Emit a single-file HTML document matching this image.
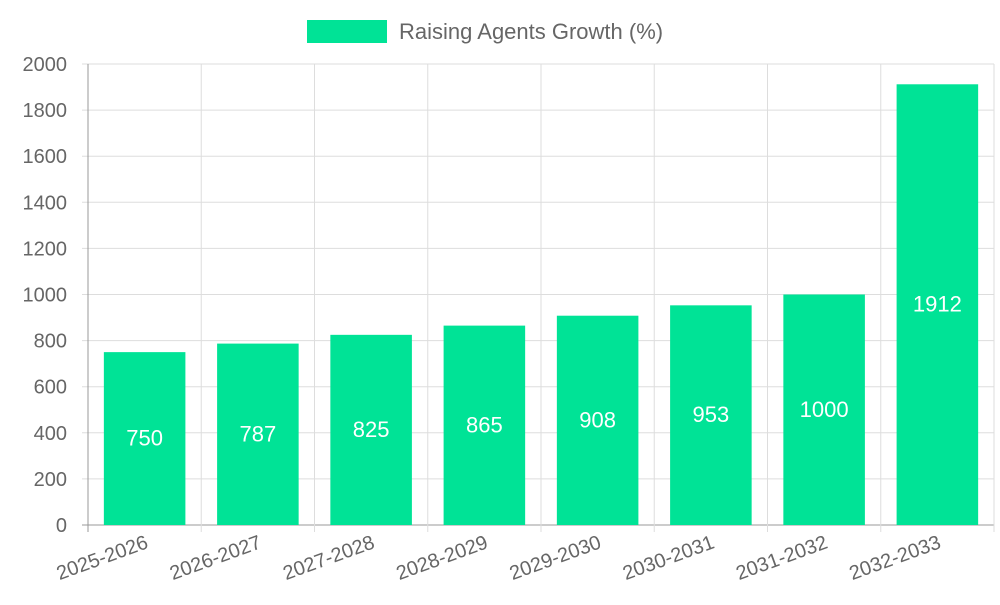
<!DOCTYPE html>
<html><head><meta charset="utf-8"><style>
body{margin:0;background:#fff;font-family:"Liberation Sans",sans-serif}
</style></head><body>
<svg id="chart" width="1000" height="600" xmlns="http://www.w3.org/2000/svg" font-family="Liberation Sans, sans-serif"></svg>
<script>
const categories=["2025-2026","2026-2027","2027-2028","2028-2029","2029-2030","2030-2031","2031-2032","2032-2033"];
const values=[750,787,825,865,908,953,1000,1912];
const yTicks=[0,200,400,600,800,1000,1200,1400,1600,1800,2000];
const svg=document.getElementById('chart');
const NS='http://www.w3.org/2000/svg';
const L=88,R=994,T=64,B=525,yMax=2000;
const band=(R-L)/categories.length;
const x=i=>L+i*band;
const y=v=>B-(v/yMax)*(B-T);
function mk(tag,attrs,parent){const e=document.createElementNS(NS,tag);for(const k in attrs)e.setAttribute(k,attrs[k]);(parent||svg).appendChild(e);return e;}
const grid=mk('g',{});


yTicks.forEach(t=>{
  mk('line',{x1:82,x2:R,y1:y(t),y2:y(t),stroke:t===0?'#999':'#ddd','stroke-width':1},grid);
  const tx=mk('text',{x:67,y:y(t)+7,'text-anchor':'end','font-size':20,fill:'#666'});
  tx.textContent=t;
  
  
});
for(let i=0;i<=categories.length;i++){
  mk('line',{x1:x(i),x2:x(i),y1:T,y2:532,stroke:i===0?'#999':'#ddd','stroke-width':1},grid);
}
categories.forEach((c,i)=>{
  const bw=band*0.72, bx=x(i)+(band-bw)/2;
  const r=mk('rect',{x:bx,y:y(values[i]),width:bw,height:B-y(values[i]),fill:'#00e396'});
  
  
  const vt=mk('text',{x:bx+bw/2,y:(y(values[i])+B)/2+7,'text-anchor':'middle','font-size':22,fill:'#fff'});
  vt.textContent=values[i];
  
  
  const cx=x(i)+band/2+2, cy=540;
  const lt=mk('text',{x:cx,y:cy+8,'text-anchor':'end','font-size':20,fill:'#666',transform:`rotate(-20 ${cx} ${cy})`});
  lt.textContent=c;
  
  
});
const lg=mk('g',{});


mk('rect',{x:307,y:20,width:80,height:23,fill:'#00e396'},lg);
const ltx=mk('text',{x:399,y:39,'font-size':22,fill:'#666'},lg);
ltx.textContent='Raising Agents Growth (%)';
</script>
</body></html>
